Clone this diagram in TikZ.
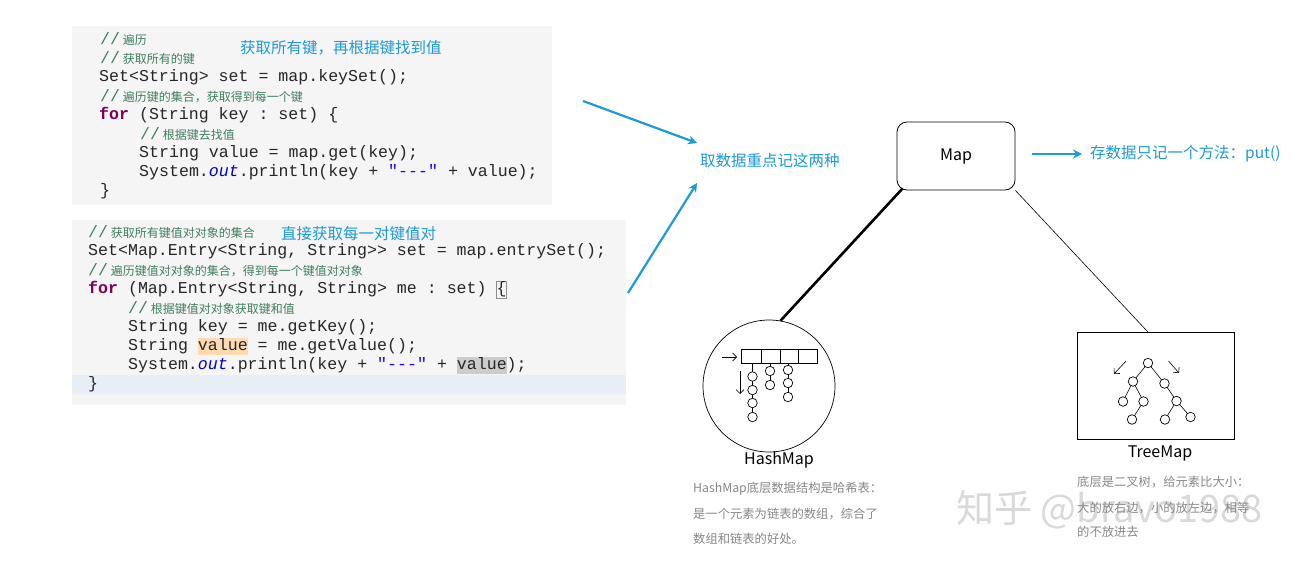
\documentclass[tikz,border=0pt]{standalone}
\usepackage{fontspec}
\setmainfont{Noto Sans CJK SC}
\setmonofont{Liberation Mono}
\newfontfamily\cjk{Noto Sans CJK SC}
\usetikzlibrary{calc,arrows.meta}
\definecolor{codebg}{HTML}{F5F5F5}
\definecolor{curline}{HTML}{E8EEF6}
\definecolor{kw}{HTML}{7F0055}
\definecolor{str}{HTML}{2A00FF}
\definecolor{fld}{HTML}{0000C0}
\definecolor{cmt}{HTML}{3F7F5F}
\definecolor{note}{HTML}{1E9AD6}
\definecolor{greytxt}{HTML}{888888}
\newcommand{\kwd}[1]{\textcolor{kw}{\textbf{#1}}}
\newcommand{\strg}[1]{\textcolor{str}{#1}}
\newcommand{\outf}{\textcolor{fld}{\textit{out}}}
\newcommand{\cm}[1]{\textcolor{cmt}{//\,{\cjk\fontsize{12}{14}\selectfont #1}}}
\tikzset{
  code/.style={anchor=west,inner sep=0,font=\ttfamily\fontsize{16.6}{18}\selectfont,text=black!85},
  noteb/.style={anchor=west,inner sep=0,text=note,font=\cjk\fontsize{15.5}{18}\selectfont},
  greyt/.style={anchor=west,inner sep=0,text=greytxt,font=\cjk\fontsize{12.3}{14}\selectfont},
  bluearr/.style={draw=note,line width=2.2pt,-{Stealth[length=9pt,width=9pt]}},
  nd/.style={circle,draw,inner sep=0,minimum size=9.5pt,line width=0.7pt,fill=white},
  lbl/.style={inner sep=0,font=\cjk\fontsize{16}{18}\selectfont}
}
\begin{document}
\begin{tikzpicture}[x=1pt,y=-1pt]
\useasboundingbox (0,0) rectangle (1306,562);
\fill[white] (0,0) rectangle (1306,562);
% watermark
\node[anchor=west,inner sep=0,text=gray!30,font=\cjk\fontsize{38}{40}\selectfont] (wm) at (956,510) {知乎 @bravo1988};
% code block 1
\fill[codebg] (72,26) rectangle (552,205);
\node[code] (a1) at (100,39) {\cm{遍历}};
\node[code] (a2) at (100,58) {\cm{获取所有的键}};
\node[code] (a3) at (99,77) {Set<String> set = map.keySet();};
\node[code] (a4) at (100,96) {\cm{遍历键的集合，获取得到每一个键}};
\node[code] (a5) at (99,115) {\kwd{for} (String key : set) \{};
\node[code] (a6) at (140,134) {\cm{根据键去找值}};
\node[code] (a7) at (139,153) {String value = map.get(key);};
\node[code] (a8) at (139,172) {System.\outf.println(key + \strg{"---"} + value);};
\node[code] (a9) at (100,191) {\}};
\node[noteb] (n1) at (240,48) {获取所有键，再根据键找到值};
% code block 2
\fill[codebg] (72,220) rectangle (626,405);
\fill[curline] (72,375) rectangle (626,394);
\fill[orange!30] (197.5,338) rectangle (247.5,355);
\fill[black!20] (456.5,357) rectangle (506.5,374);
\draw[black!45] (496.5,281) rectangle (506.5,298);
\node[code] (b1) at (88,232) {\cm{获取所有键值对对象的集合}};
\node[code] (b2) at (88,251) {Set<Map.Entry<String, String>> set = map.entrySet();};
\node[code] (b3) at (88,270) {\cm{遍历键值对对象的集合，得到每一个键值对对象}};
\node[code] (b4) at (88,289) {\kwd{for} (Map.Entry<String, String> me : set) \{};
\node[code] (b5) at (128,308) {\cm{根据键值对对象获取键和值}};
\node[code] (b6) at (128,327) {String key = me.getKey();};
\node[code] (b7) at (128,346) {String value = me.getValue();};
\node[code] (b8) at (128,365) {System.\outf.println(key + \strg{"---"} + value);};
\node[code] (b9) at (88,384) {\}};
\node[noteb] (n2) at (281,234) {直接获取每一对键值对};
% annotations
\node[noteb] (get) at (700,161) {取数据重点记这两种};
\coordinate (s1) at (583,101);
\coordinate (s2) at (628,293);
\draw[bluearr] (s1) -- (697,143);
\draw[bluearr] (s2) -- (697,183);
% Map
\node[draw,rounded corners=10pt,line width=0.8pt,minimum width=118pt,minimum height=68pt,lbl] (map) at (956,156) {Map};
\node[noteb] (put) at (1090,154) {存数据只记一个方法：put()};
\draw[bluearr] (1032,154) -- ($(put.west)+(-8,0)$);
% HashMap
\node[draw,circle,minimum size=132pt,inner sep=0,line width=0.7pt] (hm) at (769,386) {};
\draw[line width=2.6pt] ($(map.south west)+(6,-2)$) -- (hm.80);
\node[draw,minimum width=76pt,minimum height=13.5pt,inner sep=0,line width=0.7pt] (arr) at (779.5,356.5) {};
\foreach \x in {761,780,798} \draw[line width=0.7pt] (\x,350) -- (\x,363.5);
\draw[-{Straight Barb[length=4pt]},line width=0.6pt] (722,357) -- (737,357);
\draw[-{Straight Barb[length=4pt]},line width=0.6pt] (740,371) -- (740,394);
\draw[line width=0.6pt] (752.5,363.5) -- (752.5,417);
\draw[line width=0.6pt] (770,363.5) -- (770,385);
\draw[line width=0.6pt] (788,363.5) -- (788,397);
\foreach \y in {376.5,390,403,417} \node[nd] at (752.5,\y) {};
\foreach \y in {371,385} \node[nd] at (770,\y) {};
\foreach \y in {370,383,397} \node[nd] at (788,\y) {};
\node[lbl,anchor=north] (hml) at (779,452) {HashMap};
\node[greyt] (h1) at (693,489) {HashMap底层数据结构是哈希表：};
\node[greyt] (h2) at (693,514) {是一个元素为链表的数组，综合了};
\node[greyt] (h3) at (693,539) {数组和链表的好处。};
% TreeMap
\node[draw,minimum width=157pt,minimum height=107pt,inner sep=0,line width=0.8pt] (tm) at (1156,386) {};
\draw[line width=0.6pt] (map.south east) -- ($(tm.north)+(-8,0)$);
\coordinate (r) at (1148,363);
\coordinate (l) at (1133,381.5);
\coordinate (rr) at (1164.5,383.5);
\coordinate (ll) at (1123,401.5);
\coordinate (lr) at (1143.5,401.5);
\coordinate (rrr) at (1176.5,401);
\coordinate (lrl) at (1132,419.5);
\coordinate (rrrl) at (1165,419.5);
\coordinate (rrrr) at (1190.5,417);
\draw[line width=0.6pt] (r)--(l) (r)--(rr) (l)--(ll) (l)--(lr) (lr)--(lrl) (rr)--(rrr) (rrr)--(rrrl) (rrr)--(rrrr);
\foreach \p in {r,l,rr,ll,lr,rrr,lrl,rrrl,rrrr} \node[nd] at (\p) {};
\draw[-{Straight Barb[length=4pt]},line width=0.6pt] (1126,361) -- (1114,374);
\draw[-{Straight Barb[length=4pt]},line width=0.6pt] (1168.5,361) -- (1179,373);
\node[lbl,anchor=north] (tml) at (1160,446) {TreeMap};
\node[greyt] (t1) at (1077,482) {底层是二叉树，给元素比大小：};
\node[greyt] (t2) at (1077,508) {大的放右边，小的放左边，相等};
\node[greyt] (t3) at (1077,532) {的不放进去};
\end{tikzpicture}
\end{document}
